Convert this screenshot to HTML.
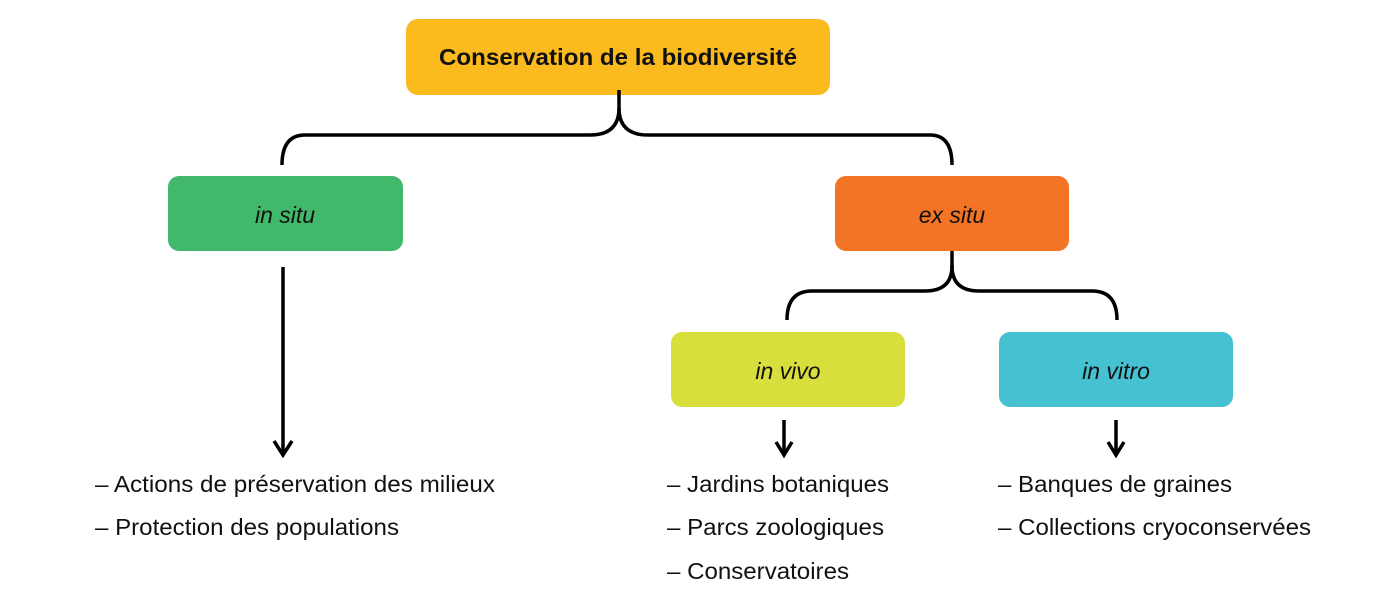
<!DOCTYPE html>
<html><head><meta charset="utf-8"><style>
html,body{margin:0;padding:0;background:#fff;}
svg{display:block;}
text{font-family:"Liberation Sans",Arial,sans-serif;fill:#111;}
</style></head><body>
<svg width="1387" height="608" viewBox="0 0 1387 608" xmlns="http://www.w3.org/2000/svg">
<rect x="406" y="19" width="424" height="76" rx="12" fill="#FBBA1E"/>
<text x="618" y="65" font-size="23" font-weight="bold" text-anchor="middle" textLength="358" lengthAdjust="spacingAndGlyphs">Conservation de la biodiversité</text>

<g fill="none" stroke="#000" stroke-width="3.5">
<path d="M619,90 V108 Q619,135 590,135 H305 Q282,135 282,165"/>
<path d="M619,108 Q619,135 648,135 H930 Q952,135 952,165"/>
<path d="M952,251 V266 Q952,291 925,291 H812 Q787,291 787,320"/>
<path d="M952,266 Q952,291 979,291 H1092 Q1117,291 1117,320"/>
<path d="M283,267 V455"/>
<path d="M274,441 L283,455 L292,441"/>
<path d="M784,420 V455"/>
<path d="M776,442 L784,455 L792,442"/>
<path d="M1116,420 V455"/>
<path d="M1108,442 L1116,455 L1124,442"/>
</g>

<rect x="168" y="176" width="235" height="75" rx="11" fill="#41B86A"/>
<text x="285" y="223" font-size="23" font-style="italic" text-anchor="middle">in situ</text>
<rect x="835" y="176" width="234" height="75" rx="11" fill="#F27424"/>
<text x="952" y="223" font-size="23" font-style="italic" text-anchor="middle">ex situ</text>
<rect x="671" y="332" width="234" height="75" rx="11" fill="#D8DE3C"/>
<text x="788" y="379" font-size="23" font-style="italic" text-anchor="middle">in vivo</text>
<rect x="999" y="332" width="234" height="75" rx="11" fill="#45C1D1"/>
<text x="1116" y="379" font-size="23" font-style="italic" text-anchor="middle">in vitro</text>

<g font-size="23.5">
<text x="95" y="492" textLength="400" lengthAdjust="spacingAndGlyphs">– Actions de préservation des milieux</text>
<text x="95" y="535" textLength="304" lengthAdjust="spacingAndGlyphs">– Protection des populations</text>
<text x="667" y="492" textLength="222" lengthAdjust="spacingAndGlyphs">– Jardins botaniques</text>
<text x="667" y="535" textLength="217" lengthAdjust="spacingAndGlyphs">– Parcs zoologiques</text>
<text x="667" y="579" textLength="182" lengthAdjust="spacingAndGlyphs">– Conservatoires</text>
<text x="998" y="492" textLength="234" lengthAdjust="spacingAndGlyphs">– Banques de graines</text>
<text x="998" y="535" textLength="313" lengthAdjust="spacingAndGlyphs">– Collections cryoconservées</text>
</g>
</svg>
</body></html>
